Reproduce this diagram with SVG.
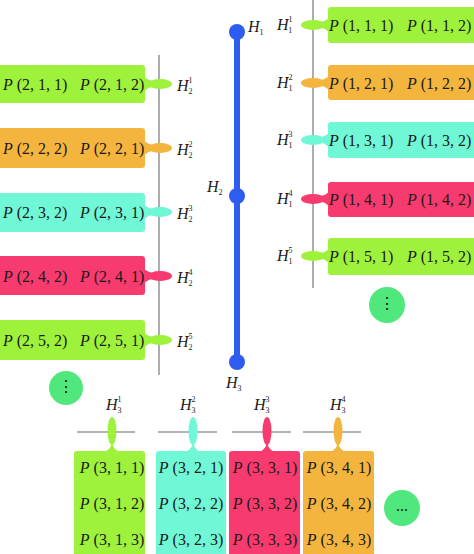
<svg xmlns="http://www.w3.org/2000/svg" width="474" height="554" viewBox="0 0 474 554">
<style>
.t{font-family:"Liberation Serif","Times New Roman",serif;font-size:16px;fill:#1a1a1a}
.i{font-style:italic}
.h{font-family:"Liberation Serif","Times New Roman",serif;font-size:16px;font-style:italic;fill:#1a1a1a}
.s{font-size:8px;font-style:normal}
.g{fill:#9ef23c}.o{fill:#f4b53e}.c{fill:#6ff7d6}.r{fill:#f83b6e}
.ln{stroke:#9a9a9a;stroke-width:1.6;fill:none}
.dot{fill:#50e87c}
</style>
<rect width="474" height="554" fill="#fff"/>
<g id="connectors">
<line class="ln" x1="159" y1="55" x2="159" y2="375"/>
<line class="ln" x1="313" y1="0" x2="313" y2="288"/>
<line x1="237" y1="32" x2="237" y2="362" stroke="#2f5cf0" stroke-width="6"/>
<line class="ln" x1="77" y1="432" x2="135" y2="432"/>
<line class="ln" x1="158" y1="432" x2="217" y2="432"/>
<line class="ln" x1="232" y1="432" x2="291" y2="432"/>
<line class="ln" x1="303" y1="432" x2="361" y2="432"/>
</g>
<g id="hub">
<circle cx="237" cy="32" r="8" fill="#2f5cf0"/>
<circle cx="237" cy="196" r="8" fill="#2f5cf0"/>
<circle cx="237" cy="362" r="8" fill="#2f5cf0"/>
<text class="h" x="248" y="32">H<tspan class="s" dy="3">1</tspan></text>
<text class="h" x="207" y="192">H<tspan class="s" dy="3">2</tspan></text>
<text class="h" x="226" y="388">H<tspan class="s" dy="3">3</tspan></text>
</g>
<!-- Left column H2 -->
<g id="h2-1">
<rect class="g" x="-5" y="65" width="150" height="38" rx="3"/>
<path class="g" d="M143,76 Q150,82 156,81 L156,87 Q150,86 143,92 Z"/>
<ellipse class="g" cx="160" cy="84" rx="12" ry="5"/>
<text class="t" x="3" y="90"><tspan class="i">P</tspan> (2, 1, 1)</text>
<text class="t" x="80" y="90"><tspan class="i">P</tspan> (2, 1, 2)</text>
<text class="h" x="177" y="91">H<tspan class="s" dy="-8">1</tspan><tspan class="s" dx="-4" dy="11">2</tspan></text>
</g>
<g id="h2-2">
<rect class="o" x="-5" y="128" width="150" height="40" rx="3"/>
<path class="o" d="M143,140 Q150,146 156,145 L156,151 Q150,150 143,156 Z"/>
<ellipse class="o" cx="160" cy="148" rx="12" ry="5"/>
<text class="t" x="3" y="154"><tspan class="i">P</tspan> (2, 2, 2)</text>
<text class="t" x="80" y="154"><tspan class="i">P</tspan> (2, 2, 1)</text>
<text class="h" x="177" y="155">H<tspan class="s" dy="-8">2</tspan><tspan class="s" dx="-4" dy="11">2</tspan></text>
</g>
<g id="h2-3">
<rect class="c" x="-5" y="193" width="150" height="39" rx="3"/>
<path class="c" d="M143,204 Q150,210 156,209 L156,215 Q150,214 143,220 Z"/>
<ellipse class="c" cx="160" cy="212" rx="12" ry="5"/>
<text class="t" x="3" y="218"><tspan class="i">P</tspan> (2, 3, 2)</text>
<text class="t" x="80" y="218"><tspan class="i">P</tspan> (2, 3, 1)</text>
<text class="h" x="177" y="219">H<tspan class="s" dy="-8">3</tspan><tspan class="s" dx="-4" dy="11">2</tspan></text>
</g>
<g id="h2-4">
<rect class="r" x="-5" y="256" width="150" height="39" rx="3"/>
<path class="r" d="M143,268 Q150,274 156,273 L156,279 Q150,278 143,284 Z"/>
<ellipse class="r" cx="160" cy="276" rx="12" ry="5"/>
<text class="t" x="3" y="282"><tspan class="i">P</tspan> (2, 4, 2)</text>
<text class="t" x="80" y="282"><tspan class="i">P</tspan> (2, 4, 1)</text>
<text class="h" x="177" y="283">H<tspan class="s" dy="-8">4</tspan><tspan class="s" dx="-4" dy="11">2</tspan></text>
</g>
<g id="h2-5">
<rect class="g" x="-5" y="320" width="150" height="40" rx="3"/>
<path class="g" d="M143,332 Q150,338 156,337 L156,343 Q150,342 143,348 Z"/>
<ellipse class="g" cx="160" cy="340" rx="12" ry="5"/>
<text class="t" x="3" y="346"><tspan class="i">P</tspan> (2, 5, 2)</text>
<text class="t" x="80" y="346"><tspan class="i">P</tspan> (2, 5, 1)</text>
<text class="h" x="177" y="347">H<tspan class="s" dy="-8">5</tspan><tspan class="s" dx="-4" dy="11">2</tspan></text>
</g>
<g id="more-2">
<circle class="dot" cx="66" cy="388" r="17"/>
<text class="t" x="66" y="392" text-anchor="middle" font-size="11">⋮</text>
</g>
<!-- Right column H1 -->
<g id="h1-1">
<rect class="g" x="328" y="7" width="152" height="36" rx="3"/>
<path class="g" d="M330,17 Q324,23 318,22 L318,28 Q324,27 330,33 Z"/>
<ellipse class="g" cx="313" cy="25" rx="12" ry="5"/>
<text class="t" x="329" y="31"><tspan class="i">P</tspan> (1, 1, 1)</text>
<text class="t" x="407" y="31"><tspan class="i">P</tspan> (1, 1, 2)</text>
<text class="h" x="277" y="30">H<tspan class="s" dy="-8">1</tspan><tspan class="s" dx="-4" dy="11">1</tspan></text>
</g>
<g id="h1-2">
<rect class="o" x="328" y="65" width="152" height="35" rx="3"/>
<path class="o" d="M330,75 Q324,81 318,80 L318,86 Q324,85 330,91 Z"/>
<ellipse class="o" cx="313" cy="83" rx="12" ry="5"/>
<text class="t" x="329" y="89"><tspan class="i">P</tspan> (1, 2, 1)</text>
<text class="t" x="407" y="89"><tspan class="i">P</tspan> (1, 2, 2)</text>
<text class="h" x="277" y="88">H<tspan class="s" dy="-8">2</tspan><tspan class="s" dx="-4" dy="11">1</tspan></text>
</g>
<g id="h1-3">
<rect class="c" x="328" y="122" width="152" height="36" rx="3"/>
<path class="c" d="M330,132 Q324,138 318,137 L318,143 Q324,142 330,148 Z"/>
<ellipse class="c" cx="313" cy="140" rx="12" ry="5"/>
<text class="t" x="329" y="146"><tspan class="i">P</tspan> (1, 3, 1)</text>
<text class="t" x="407" y="146"><tspan class="i">P</tspan> (1, 3, 2)</text>
<text class="h" x="277" y="145">H<tspan class="s" dy="-8">3</tspan><tspan class="s" dx="-4" dy="11">1</tspan></text>
</g>
<g id="h1-4">
<rect class="r" x="328" y="182" width="152" height="35" rx="3"/>
<path class="r" d="M330,191 Q324,197 318,196 L318,202 Q324,201 330,207 Z"/>
<ellipse class="r" cx="313" cy="199" rx="12" ry="5"/>
<text class="t" x="329" y="205"><tspan class="i">P</tspan> (1, 4, 1)</text>
<text class="t" x="407" y="205"><tspan class="i">P</tspan> (1, 4, 2)</text>
<text class="h" x="277" y="204">H<tspan class="s" dy="-8">4</tspan><tspan class="s" dx="-4" dy="11">1</tspan></text>
</g>
<g id="h1-5">
<rect class="g" x="328" y="238" width="152" height="37" rx="3"/>
<path class="g" d="M330,248 Q324,254 318,253 L318,259 Q324,258 330,264 Z"/>
<ellipse class="g" cx="313" cy="256" rx="12" ry="5"/>
<text class="t" x="329" y="262"><tspan class="i">P</tspan> (1, 5, 1)</text>
<text class="t" x="407" y="262"><tspan class="i">P</tspan> (1, 5, 2)</text>
<text class="h" x="277" y="261">H<tspan class="s" dy="-8">5</tspan><tspan class="s" dx="-4" dy="11">1</tspan></text>
</g>
<g id="more-1">
<circle class="dot" cx="387" cy="305" r="18"/>
<text class="t" x="387" y="309" text-anchor="middle" font-size="11">⋮</text>
</g>
<!-- Bottom row H3 -->
<g id="h3-1">
<rect class="g" x="74" y="451" width="71" height="110" rx="3"/>
<path class="g" d="M101,453 Q110,451 112,443 Q114,451 123,453 Z"/>
<ellipse class="g" cx="112" cy="431" rx="4.5" ry="14"/>
<text class="t" x="112" y="473" text-anchor="middle"><tspan class="i">P</tspan> (3, 1, 1)</text>
<text class="t" x="112" y="509" text-anchor="middle"><tspan class="i">P</tspan> (3, 1, 2)</text>
<text class="t" x="112" y="545" text-anchor="middle"><tspan class="i">P</tspan> (3, 1, 3)</text>
<text class="h" x="106" y="410">H<tspan class="s" dy="-8">1</tspan><tspan class="s" dx="-4" dy="11">3</tspan></text>
</g>
<g id="h3-2">
<rect class="c" x="156" y="451" width="70" height="110" rx="3"/>
<path class="c" d="M182,453 Q191,451 193,443 Q195,451 204,453 Z"/>
<ellipse class="c" cx="193" cy="431" rx="4.5" ry="14"/>
<text class="t" x="191" y="473" text-anchor="middle"><tspan class="i">P</tspan> (3, 2, 1)</text>
<text class="t" x="191" y="509" text-anchor="middle"><tspan class="i">P</tspan> (3, 2, 2)</text>
<text class="t" x="191" y="545" text-anchor="middle"><tspan class="i">P</tspan> (3, 2, 3)</text>
<text class="h" x="180" y="410">H<tspan class="s" dy="-8">2</tspan><tspan class="s" dx="-4" dy="11">3</tspan></text>
</g>
<g id="h3-3">
<rect class="r" x="229" y="451" width="71" height="110" rx="3"/>
<path class="r" d="M256,453 Q265,451 267,443 Q269,451 278,453 Z"/>
<ellipse class="r" cx="267" cy="431" rx="4.5" ry="14"/>
<text class="t" x="265" y="473" text-anchor="middle"><tspan class="i">P</tspan> (3, 3, 1)</text>
<text class="t" x="265" y="509" text-anchor="middle"><tspan class="i">P</tspan> (3, 3, 2)</text>
<text class="t" x="265" y="545" text-anchor="middle"><tspan class="i">P</tspan> (3, 3, 3)</text>
<text class="h" x="254" y="410">H<tspan class="s" dy="-8">3</tspan><tspan class="s" dx="-4" dy="11">3</tspan></text>
</g>
<g id="h3-4">
<rect class="o" x="303" y="451" width="71" height="110" rx="3"/>
<path class="o" d="M327,453 Q336,451 338,443 Q340,451 349,453 Z"/>
<ellipse class="o" cx="338" cy="431" rx="4.5" ry="14"/>
<text class="t" x="339" y="473" text-anchor="middle"><tspan class="i">P</tspan> (3, 4, 1)</text>
<text class="t" x="339" y="509" text-anchor="middle"><tspan class="i">P</tspan> (3, 4, 2)</text>
<text class="t" x="339" y="545" text-anchor="middle"><tspan class="i">P</tspan> (3, 4, 3)</text>
<text class="h" x="330" y="410">H<tspan class="s" dy="-8">4</tspan><tspan class="s" dx="-4" dy="11">3</tspan></text>
</g>
<g id="more-3">
<circle class="dot" cx="402" cy="508" r="18"/>
<text class="t" x="402" y="511" text-anchor="middle" font-size="11">...</text>
</g>
</svg>
